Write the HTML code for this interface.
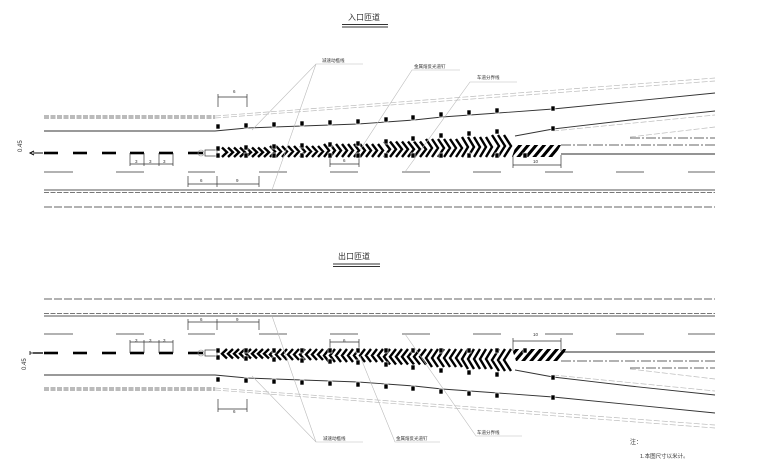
<!DOCTYPE html>
<html><head><meta charset="utf-8"><style>
html,body{margin:0;padding:0;background:#fff;width:760px;height:464px;overflow:hidden}
svg{display:block}
text{font-family:"Liberation Sans","Noto Sans CJK SC",sans-serif;fill:#333}
</style></head><body>
<svg width="760" height="464" viewBox="0 0 760 464" xmlns="http://www.w3.org/2000/svg">
<defs>
<pattern id="hs" width="8" height="4" patternUnits="userSpaceOnUse" patternTransform="skewX(-40)"><rect x="0" y="0" width="4" height="4" fill="#000"/></pattern>
</defs>
<g fill="none" stroke="#000">
 <line x1="44" y1="116" x2="215" y2="116" stroke="#777" stroke-width="1" stroke-dasharray="5 1.5"/>
 <line x1="44" y1="118" x2="215" y2="118" stroke="#777" stroke-width="1" stroke-dasharray="5 1.5"/>
 <line x1="215" y1="116" x2="715" y2="78" stroke="#bbb" stroke-width="0.7" stroke-dasharray="6 2"/>
 <line x1="215" y1="118" x2="715" y2="81" stroke="#bbb" stroke-width="0.7" stroke-dasharray="6 2"/>
 <polyline points="44,131 215,131 247,128 302,126 358,124 386,122 414,120 442,117 470,115 498,113 553,109 715,93" stroke="#333" stroke-width="0.9"/>
 <polyline points="515,136 553,129 630,120 715,111" stroke="#333" stroke-width="0.9"/>
 <line x1="553" y1="131" x2="715" y2="115" stroke="#bbb" stroke-width="0.7" stroke-dasharray="6 2"/>
 <line x1="630" y1="137" x2="715" y2="127" stroke="#bbb" stroke-width="0.7" stroke-dasharray="6 2"/>
 <line x1="630" y1="138" x2="715" y2="138" stroke="#333" stroke-width="0.8" stroke-dasharray="10 2 2 2"/>
 <line x1="561" y1="145" x2="715" y2="145" stroke="#333" stroke-width="0.8" stroke-dasharray="10 2 2 2"/>
 <line x1="561" y1="154" x2="715" y2="154" stroke="#555" stroke-width="1.2"/>
 <g stroke-width="2.6" stroke="#000">
  <line x1="44" y1="153" x2="58" y2="153"/><line x1="73" y1="153" x2="87" y2="153"/><line x1="102" y1="153" x2="116" y2="153"/>
  <line x1="130" y1="153" x2="144" y2="153"/><line x1="159" y1="153" x2="173" y2="153"/><line x1="188" y1="153" x2="203" y2="153"/>
 </g>
 <line x1="33" y1="153" x2="43" y2="153" stroke="#888" stroke-width="2"/>
 <path d="M34,151 L30,153 L34,155" stroke="#000" stroke-width="1"/>
 <rect x="205" y="150" width="12" height="6" stroke="#333" stroke-width="0.7"/>
 <circle cx="201" cy="153" r="3" stroke="#999" stroke-width="0.6"/>
 <g stroke="#666" stroke-width="1">
  <line x1="44" y1="172" x2="73" y2="172"/><line x1="116" y1="172" x2="144" y2="172"/><line x1="188" y1="172" x2="215" y2="172"/>
  <line x1="259" y1="172" x2="287" y2="172"/><line x1="330" y1="172" x2="358" y2="172"/><line x1="402" y1="172" x2="430" y2="172"/>
  <line x1="473" y1="172" x2="501" y2="172"/><line x1="545" y1="172" x2="573" y2="172"/><line x1="616" y1="172" x2="644" y2="172"/>
  <line x1="688" y1="172" x2="715" y2="172"/>
 </g>
 <line x1="44" y1="190" x2="715" y2="190" stroke="#555" stroke-width="0.9"/>
 <line x1="44" y1="192.5" x2="715" y2="192.5" stroke="#777" stroke-width="0.9" stroke-dasharray="5 1.5"/>
 <line x1="44" y1="207" x2="715" y2="207" stroke="#333" stroke-width="0.8" stroke-dasharray="8 2"/>
 <g stroke="#333" stroke-width="0.7">
  <line x1="218" y1="97" x2="247" y2="97"/><line x1="218" y1="94" x2="218" y2="107"/><line x1="247" y1="94" x2="247" y2="107"/>
  <line x1="130" y1="164" x2="173" y2="164"/><line x1="130" y1="153" x2="130" y2="166"/><line x1="144" y1="153" x2="144" y2="166"/><line x1="159" y1="153" x2="159" y2="166"/><line x1="173" y1="153" x2="173" y2="166"/>
  <line x1="188" y1="184" x2="259" y2="184"/><line x1="188" y1="176" x2="188" y2="187"/><line x1="217" y1="176" x2="217" y2="187"/><line x1="259" y1="176" x2="259" y2="187"/>
  <line x1="330" y1="164" x2="359" y2="164"/><line x1="330" y1="157" x2="330" y2="167"/><line x1="359" y1="157" x2="359" y2="167"/>
  <line x1="513" y1="165" x2="561" y2="165"/><line x1="513" y1="155" x2="513" y2="168"/><line x1="561" y1="155" x2="561" y2="168"/>
 </g>
</g>
<!-- top chevrons -->
<path fill="none" stroke="#000" stroke-width="2.4" d="
M222,147.5L227,152.2L222,157 M228,147.5L233,152.2L228,157 M234,147.5L239,152.2L234,157 M240,147.5L245,152.2L240,157 M246,147.5L251,152.2L246,157 M252,147.5L257,152.2L252,157 M258,147.5L263,152.2L258,157 M264,147.5L269,152.2L264,157
M270,146L275,151.5L270,157 M276,146L281,151.5L276,157 M282,146L287,151.5L282,157 M288,146L293,151.5L288,157 M294,146L299,151.5L294,157 M300,146L305,151.5L300,157 M306,146L311,151.5L306,157 M312,146L317,151.5L312,157 M318,146L323,151.5L318,157
M324,144L329,150.5L324,157 M330,144L335,150.5L330,157 M336,144L341,150.5L336,157 M342,144L347,150.5L342,157 M348,144L353,150.5L348,157 M354,144L359,150.5L354,157 M360,144L365,150.5L360,157 M366,144L371,150.5L366,157 M372,144L377,150.5L372,157 M378,144L383,150.5L378,157
M384,141.5L390,149.2L384,157 M390,141.5L396,149.2L390,157 M396,141.5L402,149.2L396,157 M402,141.5L408,149.2L402,157 M408,141.5L414,149.2L408,157 M414,141.5L420,149.2L414,157 M420,141.5L426,149.2L420,157
M426,139L432,148L426,157 M432,139L438,148L432,157 M438,139L444,148L438,157 M444,139L450,148L444,157 M450,139L456,148L450,157 M456,139L462,148L456,157
M462,137L468,147L462,157 M468,137L474,147L468,157 M474,137L480,147L474,157 M480,137L486,147L480,157 M486,137L492,147L486,157
M492,135L499,146L492,157 M498,135L505,146L498,157 M504,135L511,146L504,157"/>
<polygon points="516,145 561,145 554,157 512,157" fill="url(#hs)"/>
<g fill="#000" stroke="#fff" stroke-width="0.6">
 <rect x="216" y="124" width="4" height="5"/><rect x="244" y="123" width="4" height="5"/><rect x="272" y="122" width="4" height="5"/><rect x="300" y="121" width="4" height="5"/><rect x="328" y="120" width="4" height="5"/><rect x="356" y="119" width="4" height="5"/><rect x="384" y="117" width="4" height="5"/><rect x="411" y="115" width="4" height="5"/><rect x="439" y="112" width="4" height="5"/><rect x="467" y="110" width="4" height="5"/><rect x="495" y="108" width="4" height="5"/><rect x="551" y="106" width="4" height="5"/>
 <rect x="216" y="146" width="4" height="5"/><rect x="244" y="145" width="4" height="5"/><rect x="272" y="144" width="4" height="5"/><rect x="300" y="143" width="4" height="5"/><rect x="328" y="142" width="4" height="5"/><rect x="356" y="141" width="4" height="5"/><rect x="384" y="139" width="4" height="5"/><rect x="411" y="136" width="4" height="5"/><rect x="439" y="133" width="4" height="5"/><rect x="467" y="131" width="4" height="5"/><rect x="495" y="129" width="4" height="5"/><rect x="551" y="126" width="4" height="5"/>
 <rect x="216" y="153" width="4" height="5"/><rect x="244" y="153" width="4" height="5"/><rect x="272" y="153" width="4" height="5"/><rect x="300" y="153" width="4" height="5"/><rect x="328" y="153" width="4" height="5"/><rect x="356" y="153" width="4" height="5"/><rect x="384" y="153" width="4" height="5"/><rect x="411" y="153" width="4" height="5"/><rect x="439" y="153" width="4" height="5"/><rect x="467" y="153" width="4" height="5"/><rect x="495" y="153" width="4" height="5"/><rect x="523" y="153" width="4" height="5"/>
</g>

<!-- bottom section (mirrored) -->
<g transform="translate(0,506) scale(1,-1)">
<g fill="none" stroke="#000">
 <line x1="44" y1="116" x2="215" y2="116" stroke="#777" stroke-width="1" stroke-dasharray="5 1.5"/>
 <line x1="44" y1="118" x2="215" y2="118" stroke="#777" stroke-width="1" stroke-dasharray="5 1.5"/>
 <line x1="215" y1="116" x2="715" y2="78" stroke="#bbb" stroke-width="0.7" stroke-dasharray="6 2"/>
 <line x1="215" y1="118" x2="715" y2="81" stroke="#bbb" stroke-width="0.7" stroke-dasharray="6 2"/>
 <polyline points="44,131 215,131 247,128 302,126 358,124 386,122 414,120 442,117 470,115 498,113 553,109 715,93" stroke="#333" stroke-width="0.9"/>
 <polyline points="515,136 553,129 630,120 715,111" stroke="#333" stroke-width="0.9"/>
 <line x1="553" y1="131" x2="715" y2="115" stroke="#bbb" stroke-width="0.7" stroke-dasharray="6 2"/>
 <line x1="630" y1="137" x2="715" y2="127" stroke="#bbb" stroke-width="0.7" stroke-dasharray="6 2"/>
 <line x1="630" y1="138" x2="715" y2="138" stroke="#333" stroke-width="0.8" stroke-dasharray="10 2 2 2"/>
 <line x1="561" y1="145" x2="715" y2="145" stroke="#333" stroke-width="0.8" stroke-dasharray="10 2 2 2"/>
 <line x1="561" y1="154" x2="715" y2="154" stroke="#555" stroke-width="1.2"/>
 <g stroke-width="2.6" stroke="#000">
  <line x1="44" y1="153" x2="58" y2="153"/><line x1="73" y1="153" x2="87" y2="153"/><line x1="102" y1="153" x2="116" y2="153"/>
  <line x1="130" y1="153" x2="144" y2="153"/><line x1="159" y1="153" x2="173" y2="153"/><line x1="188" y1="153" x2="203" y2="153"/>
 </g>
 <rect x="205" y="150" width="12" height="6" stroke="#333" stroke-width="0.7"/>
 <circle cx="201" cy="153" r="3" stroke="#999" stroke-width="0.6"/>
 <g stroke="#666" stroke-width="1">
  <line x1="44" y1="172" x2="73" y2="172"/><line x1="116" y1="172" x2="144" y2="172"/><line x1="188" y1="172" x2="215" y2="172"/>
  <line x1="259" y1="172" x2="287" y2="172"/><line x1="330" y1="172" x2="358" y2="172"/><line x1="402" y1="172" x2="430" y2="172"/>
  <line x1="473" y1="172" x2="501" y2="172"/><line x1="545" y1="172" x2="573" y2="172"/><line x1="616" y1="172" x2="644" y2="172"/>
  <line x1="688" y1="172" x2="715" y2="172"/>
 </g>
 <line x1="44" y1="190" x2="715" y2="190" stroke="#555" stroke-width="0.9"/>
 <line x1="44" y1="192.5" x2="715" y2="192.5" stroke="#777" stroke-width="0.9" stroke-dasharray="5 1.5"/>
 <line x1="44" y1="207" x2="715" y2="207" stroke="#333" stroke-width="0.8" stroke-dasharray="8 2"/>
 <g stroke="#333" stroke-width="0.7">
  <line x1="218" y1="97" x2="247" y2="97"/><line x1="218" y1="94" x2="218" y2="107"/><line x1="247" y1="94" x2="247" y2="107"/>
  <line x1="130" y1="164" x2="173" y2="164"/><line x1="130" y1="153" x2="130" y2="166"/><line x1="144" y1="153" x2="144" y2="166"/><line x1="159" y1="153" x2="159" y2="166"/><line x1="173" y1="153" x2="173" y2="166"/>
  <line x1="188" y1="184" x2="259" y2="184"/><line x1="188" y1="176" x2="188" y2="187"/><line x1="217" y1="176" x2="217" y2="187"/><line x1="259" y1="176" x2="259" y2="187"/>
  <line x1="330" y1="164" x2="359" y2="164"/><line x1="330" y1="157" x2="330" y2="167"/><line x1="359" y1="157" x2="359" y2="167"/>
  <line x1="513" y1="165" x2="561" y2="165"/><line x1="513" y1="155" x2="513" y2="168"/><line x1="561" y1="155" x2="561" y2="168"/>
 </g>
</g>
</g>
<line x1="33" y1="353" x2="43" y2="353" stroke="#888" stroke-width="2"/>
<path d="M30,351 L30,355 M30,353 L43,353" stroke="#000" stroke-width="0.8" fill="none"/>
<!-- bottom chevrons -->
<path fill="none" stroke="#000" stroke-width="2.4" d="
M227,349L222,353.8L227,358.5 M233,349L228,353.8L233,358.5 M239,349L234,353.8L239,358.5 M245,349L240,353.8L245,358.5 M251,349L246,353.8L251,358.5 M257,349L252,353.8L257,358.5 M263,349L258,353.8L263,358.5 M269,349L264,353.8L269,358.5
M275,349L270,354.5L275,360 M281,349L276,354.5L281,360 M287,349L282,354.5L287,360 M293,349L288,354.5L293,360 M299,349L294,354.5L299,360 M305,349L300,354.5L305,360 M311,349L306,354.5L311,360 M317,349L312,354.5L317,360 M323,349L318,354.5L323,360
M329,349L324,355.5L329,362 M335,349L330,355.5L335,362 M341,349L336,355.5L341,362 M347,349L342,355.5L347,362 M353,349L348,355.5L353,362 M359,349L354,355.5L359,362 M365,349L360,355.5L365,362 M371,349L366,355.5L371,362 M377,349L372,355.5L377,362 M383,349L378,355.5L383,362
M390,349L384,356.8L390,364.5 M396,349L390,356.8L396,364.5 M402,349L396,356.8L402,364.5 M408,349L402,356.8L408,364.5 M414,349L408,356.8L414,364.5 M420,349L414,356.8L420,364.5 M426,349L420,356.8L426,364.5
M432,349L426,358L432,367 M438,349L432,358L438,367 M444,349L438,358L444,367 M450,349L444,358L450,367 M456,349L450,358L456,367 M462,349L456,358L462,367
M468,349L462,359L468,369 M474,349L468,359L474,369 M480,349L474,359L480,369 M486,349L480,359L486,369 M492,349L486,359L492,369
M499,349L492,360L499,371 M505,349L498,360L505,371 M511,349L504,360L511,371"/>
<polygon points="516,361 561,361 566,349 512,349" fill="url(#hs)"/>
<g fill="#000" stroke="#fff" stroke-width="0.6">
 <rect x="216" y="377" width="4" height="5"/><rect x="244" y="378" width="4" height="5"/><rect x="272" y="379" width="4" height="5"/><rect x="300" y="380" width="4" height="5"/><rect x="328" y="381" width="4" height="5"/><rect x="356" y="382" width="4" height="5"/><rect x="384" y="384" width="4" height="5"/><rect x="411" y="386" width="4" height="5"/><rect x="439" y="389" width="4" height="5"/><rect x="467" y="391" width="4" height="5"/><rect x="495" y="393" width="4" height="5"/><rect x="551" y="395" width="4" height="5"/>
 <rect x="216" y="355" width="4" height="5"/><rect x="244" y="356" width="4" height="5"/><rect x="272" y="357" width="4" height="5"/><rect x="300" y="358" width="4" height="5"/><rect x="328" y="359" width="4" height="5"/><rect x="356" y="360" width="4" height="5"/><rect x="384" y="362" width="4" height="5"/><rect x="411" y="365" width="4" height="5"/><rect x="439" y="368" width="4" height="5"/><rect x="467" y="370" width="4" height="5"/><rect x="495" y="372" width="4" height="5"/><rect x="551" y="375" width="4" height="5"/>
 <rect x="216" y="348" width="4" height="5"/><rect x="244" y="348" width="4" height="5"/><rect x="272" y="348" width="4" height="5"/><rect x="300" y="348" width="4" height="5"/><rect x="328" y="348" width="4" height="5"/><rect x="356" y="348" width="4" height="5"/><rect x="384" y="348" width="4" height="5"/><rect x="411" y="348" width="4" height="5"/><rect x="439" y="348" width="4" height="5"/><rect x="467" y="348" width="4" height="5"/><rect x="495" y="348" width="4" height="5"/><rect x="523" y="348" width="4" height="5"/>
</g>
<g stroke="#bbb" stroke-width="0.6" fill="none">
 <polyline points="363,64 316,64 252,130"/><line x1="316" y1="64" x2="272" y2="190"/>
 <polyline points="460,70 412,70 360,150"/>
 <polyline points="517,82 470,82 405,172"/>
 <polyline points="363,442 316,442 252,376"/><line x1="316" y1="442" x2="272" y2="316"/>
 <polyline points="440,442 395,442 360,356"/>
 <polyline points="522,436 476,436 405,334"/>
</g>
<text x="348" y="20" font-size="8">入口匝道</text>
<line x1="342" y1="24.5" x2="388" y2="24.5" stroke="#333" stroke-width="0.9"/><line x1="342" y1="27" x2="388" y2="27" stroke="#333" stroke-width="0.9"/>
<text x="338" y="259" font-size="8">出口匝道</text>
<line x1="333" y1="264" x2="380" y2="264" stroke="#333" stroke-width="0.9"/><line x1="333" y1="266.5" x2="380" y2="266.5" stroke="#333" stroke-width="0.9"/>
<g font-size="4.5">
<text x="322" y="62">减速动槛线</text>
<text x="414" y="68">金属熔反光道钉</text>
<text x="477" y="79">车道分界线</text>
<text x="323" y="440">减速动槛线</text>
<text x="396" y="440">金属熔反光道钉</text>
<text x="477" y="434">车道分界线</text>
<text x="233" y="93">6</text><text x="135" y="163">3</text><text x="149" y="163">3</text><text x="163" y="163">3</text>
<text x="200" y="182">6</text><text x="236" y="182">9</text><text x="343" y="162">6</text><text x="533" y="163">10</text>
<text x="233" y="413">6</text><text x="135" y="342">3</text><text x="149" y="342">3</text><text x="163" y="342">3</text>
<text x="200" y="321">6</text><text x="236" y="321">9</text><text x="343" y="342">6</text><text x="533" y="336">10</text>
</g>
<text x="22" y="152" font-size="6" transform="rotate(-90 22 152)" fill="#888">0.45</text>
<text x="26" y="370" font-size="6" transform="rotate(-90 26 370)" fill="#888">0.45</text>
<text x="630" y="444" font-size="6">注：</text>
<text x="640" y="458" font-size="5.5">1.本图尺寸以米计。</text>
</svg>
</body></html>
